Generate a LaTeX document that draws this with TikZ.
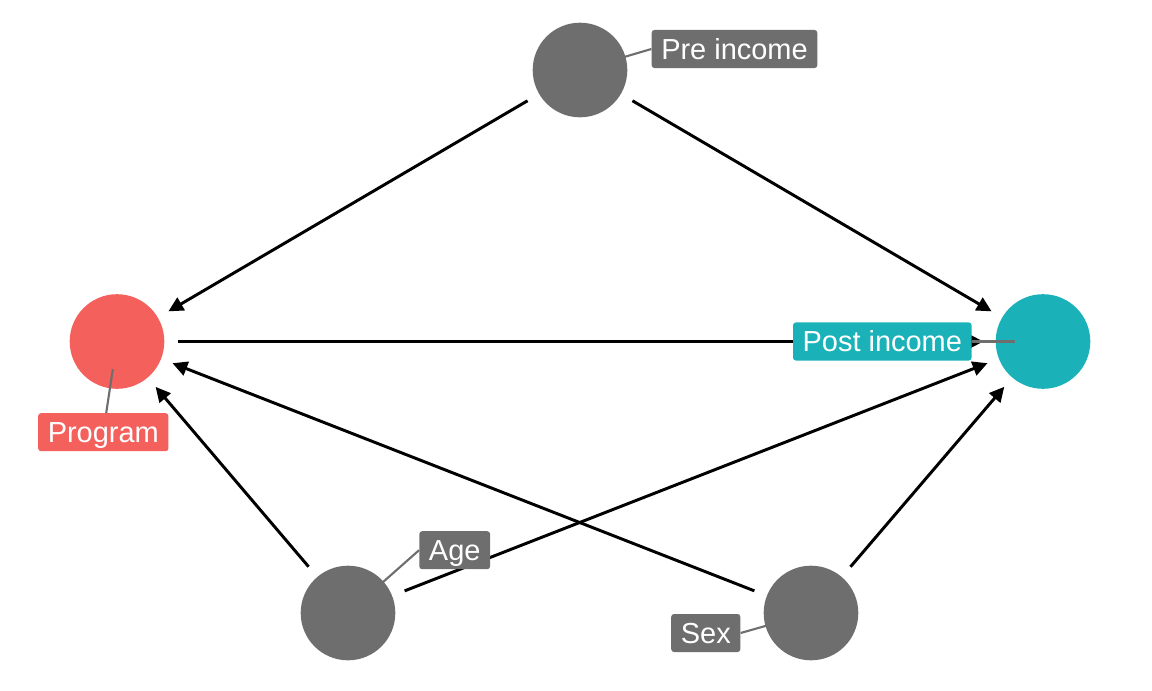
\documentclass[tikz,border=0pt]{standalone}
\usepackage{fontspec}
\setmainfont{Liberation Sans}
\usetikzlibrary{arrows.meta}
\definecolor{dagGrey}{RGB}{110,110,110}
\definecolor{dagRed}{RGB}{244,96,92}
\definecolor{dagTeal}{RGB}{26,178,184}

\begin{document}
\begin{tikzpicture}[x=0.025cm, y=-0.025cm,
	var/.style={circle, fill=#1, minimum size=2.365cm, inner sep=0},
	lab/.style={fill=#1, text=white, rounded corners=2pt, inner xsep=0.24cm, inner ysep=0,
		minimum height=0.95cm, text height=0.51cm, text depth=0cm, font=\fontsize{20.6}{24}\selectfont},
	edge/.style={line width=2.1pt, -{Triangle[length=0.37cm,width=0.36cm]}, shorten <=0.33cm, shorten >=0.3cm},
	leader/.style={line width=1.5pt, draw=dagGrey, shorten >=0.7cm}]
	\useasboundingbox (0,0) rectangle (1152,691);
	\node[var=dagGrey] (pre) at (580,70) {};
	\node[var=dagRed] (program) at (117,341.5) {};
	\node[var=dagTeal] (post) at (1043,341.5) {};
	\node[var=dagGrey] (age) at (348,613) {};
	\node[var=dagGrey] (sex) at (811,613) {};
	\foreach \a/\b in {pre/program, pre/post, program/post, age/program, age/post, sex/program, sex/post}
		\draw[edge] (\a) -- (\b);
	\node[lab=dagGrey] (prelab) at (734.5,49) {Pre income};
	\node[lab=dagRed] (programlab) at (103.3,432.2) {Program};
	\node[lab=dagTeal] (postlab) at (882.3,341.5) {Post income};
	\node[lab=dagGrey] (agelab) at (454.7,550.2) {Age};
	\node[lab=dagGrey] (sexlab) at (705.8,633) {Sex};
	\draw[leader] (prelab.west) -- (pre.center);
	\draw[leader] (programlab) -- (program.center);
	\draw[leader] (postlab.east) -- (post.center);
	\draw[leader] (agelab.west) -- (age.center);
	\draw[leader] (sexlab.east) -- (sex.center);
\end{tikzpicture}
\end{document}
